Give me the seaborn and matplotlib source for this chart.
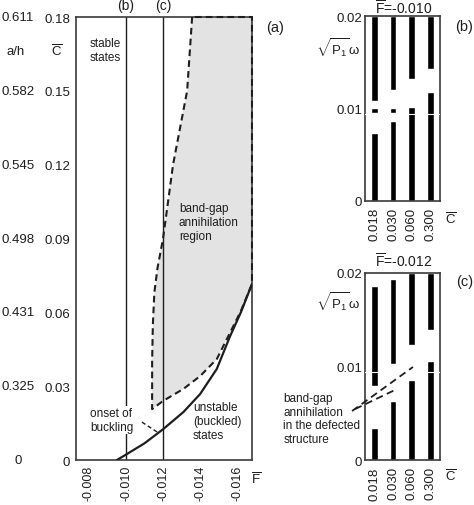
import numpy as np
import matplotlib
matplotlib.use('Agg')
import matplotlib.pyplot as plt
import matplotlib.transforms as mtransforms
import seaborn as sns

# ---- panel (a): stability / band-gap map ----
C_ticks = [0, 0.03, 0.06, 0.09, 0.12, 0.15, 0.18]
C_labels = ['0', '0.03', '0.06', '0.09', '0.12', '0.15', '0.18']
ah_labels = ['0', '0.325', '0.431', '0.498', '0.545', '0.582', '0.611']
F_ticks = [-0.008, -0.010, -0.012, -0.014, -0.016]
F_labels = ['-0.008', '-0.010', '-0.012', '-0.014', '-0.016']
F_cuts = [-0.010, -0.012]
cut_names = ['(b)', '(c)']

# onset of buckling curve
F_buckle = [-0.00951, -0.0100, -0.0110, -0.0120, -0.0131, -0.0140, -0.0149, -0.0156, -0.0162, -0.0168]
C_buckle = [0.0, 0.0022, 0.0068, 0.0125, 0.0195, 0.0268, 0.0370, 0.0500, 0.0600, 0.0715]

# band-gap annihilation region outline
F_gap_left = [-0.01357, -0.0133, -0.01254, -0.0120, -0.0117, -0.01153, -0.01145, -0.01141, -0.01141]
C_gap_left = [0.18, 0.15, 0.12, 0.09, 0.078, 0.068, 0.055, 0.040, 0.0207]
F_gap_low = [-0.0120, -0.0131, -0.0140, -0.0149, -0.0156, -0.0162, -0.0168]
C_gap_low = [0.0240, 0.0289, 0.0341, 0.0410, 0.0515, 0.0605, 0.0715]
F_gap_corner = [-0.0168, -0.01357]
C_gap_corner = [0.18, 0.18]

# ---- panels (b), (c): pass bands per C ----
C_cats = ['0.018', '0.030', '0.060', '0.300']

b_low_top = [0.00735, 0.00862, 0.0102, 0.01175]
b_up_bottom = [0.0108, 0.0120, 0.0132, 0.01427]
b_up_top = [0.02, 0.02, 0.02, 0.02]
b_mid_pos = [0, 1]
b_mid_bottom = [0.0095, 0.0095]
b_mid_top = [0.0100, 0.0100]

c_low_top = [0.0034, 0.0063, 0.0086, 0.01056]
c_up_bottom = [0.0079, 0.0103, 0.0123, 0.0139]
c_up_top = [0.0186, 0.0194, 0.02, 0.02]

# defect annihilation markers in (c)
c_dash1_x = [-1.19, 2.06]
c_dash1_y = [0.00524, 0.00995]
c_dash2_x = [-1.03, 1.10]
c_dash2_y = [0.00545, 0.00749]

sns.set_style('white')
plt.rcParams['font.family'] = ['Liberation Sans', 'DejaVu Sans']
plt.rcParams['mathtext.fontset'] = 'custom'
plt.rcParams['mathtext.rm'] = 'Liberation Sans'
plt.rcParams['mathtext.it'] = 'Liberation Sans'
plt.rcParams['mathtext.bf'] = 'Liberation Sans:bold'

ink = '#1e1e1e'
spine = '#3a3a3a'
fs = 9.5

fig = plt.figure(figsize=(4.74, 5.06), dpi=100)
ax_a = fig.add_axes([0.1603, 0.0889, 0.3713, 0.8755])
ax_b = fig.add_axes([0.7700, 0.6008, 0.1582, 0.3656])
ax_c = fig.add_axes([0.7700, 0.0889, 0.1582, 0.3696])

for ax in (ax_a, ax_b, ax_c):
    for s in ax.spines.values():
        s.set_color(spine)
        s.set_linewidth(1.2)
    ax.tick_params(length=0, colors=ink, labelsize=fs)

# ---- (a) ----
poly_F = F_gap_left + F_gap_low + F_gap_corner
poly_C = C_gap_left + C_gap_low + C_gap_corner
ax_a.fill(poly_F, poly_C, color='#e3e3e3', lw=0, zorder=1)
for fc in F_cuts:
    ax_a.axvline(fc, color=ink, lw=1.0, zorder=2)
sns.lineplot(x=F_buckle, y=C_buckle, sort=False, estimator=None, color=ink,
             lw=1.6, ax=ax_a, zorder=3)
sns.lineplot(x=poly_F + poly_F[:1], y=poly_C + poly_C[:1], sort=False, estimator=None,
             color=ink, lw=1.5, dashes=False, ax=ax_a, zorder=4, clip_on=False)
ax_a.lines[-1].set_linestyle((0, (3.2, 2.0)))
ax_a.plot([-0.01086, -0.01168], [0.0154, 0.0114], color=ink, lw=1.0,
          linestyle=(0, (3, 2)), zorder=3)

ax_a.set_xlim(-0.0073, -0.0168)
ax_a.set_ylim(0, 0.18)
ax_a.set_xticks(F_ticks)
ax_a.set_xticklabels(F_labels, rotation=90, fontsize=9)
ax_a.set_yticks(C_ticks)
ax_a.set_yticklabels(C_labels)
ax_a.tick_params(axis='y', pad=4.3)
ax_a.tick_params(axis='x', pad=3.2)

bt = mtransforms.blended_transform_factory(ax_a.transAxes, ax_a.transData)
for cv, lab in zip(C_ticks, ah_labels):
    ax_a.text(-0.33, cv, lab, transform=bt, ha='center', va='center', fontsize=fs, color=ink)
bx = mtransforms.blended_transform_factory(ax_a.transData, ax_a.transAxes)
for fc, lab in zip(F_cuts, cut_names):
    ax_a.text(fc, 1.027, lab, transform=bx, ha='center', va='center', fontsize=10, color=ink)

fig.text(16 / 474, 1 - 52 / 506, 'a/h', ha='center', va='center', fontsize=fs, color=ink)
fig.text(57 / 474, 1 - 52 / 506, r'$\overline{\mathrm{C}}$', ha='center', va='center', fontsize=fs, color=ink)
ax_a.text(1.023, -0.043, r'$\overline{\mathrm{F}}$', transform=ax_a.transAxes,
          ha='center', va='center', fontsize=fs, color=ink)

ax_a.text(-0.00805, 0.172, 'stable\nstates', ha='left', va='top', fontsize=8.5,
          color=ink, linespacing=1.25, zorder=5)
ax_a.text(-0.01286, 0.105, 'band-gap\nannihilation\nregion', ha='left', va='top',
          fontsize=8.5, color=ink, linespacing=1.25, zorder=5)
ax_a.text(-0.00805, 0.0215, 'onset of\nbuckling', ha='left', va='top', fontsize=8.5,
          color=ink, linespacing=1.25, zorder=5,
          bbox=dict(facecolor='white', edgecolor='none', pad=0.5))
ax_a.text(-0.01362, 0.0240, 'unstable\n(buckled)\nstates', ha='left', va='top',
          fontsize=8.5, color=ink, linespacing=1.25, zorder=5)


# ---- (b) and (c) ----
def band_panel(ax, low_top, up_bottom, up_top, title, title_y, lab_y, c_y):
    pos = np.arange(len(C_cats))
    sns.barplot(x=C_cats, y=low_top, color='black', saturation=1, width=0.36,
                ax=ax, zorder=2)
    ax.bar(pos, np.subtract(up_top, up_bottom), bottom=up_bottom, width=0.36,
           color='black', zorder=2)
    ax.axhline(0.0094, color='white', lw=0.8, zorder=3)
    ax.set_xlim(-0.5, 3.5)
    ax.set_ylim(0, 0.02)
    ax.set_yticks([0, 0.01, 0.02])
    ax.set_yticklabels(['0', '0.01', '0.02'])
    ax.set_xticks(pos)
    ax.set_xticklabels(C_cats, rotation=90)
    ax.tick_params(axis='y', pad=2.2)
    ax.tick_params(axis='x', pad=4.5)
    ax.set_xlabel('')
    ax.set_ylabel('')
    ax.text(0.52, title_y, r'$\overline{\mathrm{F}}$' + title, transform=ax.transAxes,
            ha='center', va='bottom', fontsize=10, color=ink)
    ax.text(-0.06, lab_y, r'$\sqrt{\mathrm{P}_1}\,\omega$', transform=ax.transAxes,
            ha='right', va='center', fontsize=fs, color=ink)
    ax.text(1.07, c_y, r'$\overline{\mathrm{C}}$', transform=ax.transAxes,
            ha='left', va='center', fontsize=fs, color=ink)


band_panel(ax_b, b_low_top, b_up_bottom, b_up_top, '=-0.010', 0.995, 0.83, -0.097)
ax_b.bar(b_mid_pos, np.subtract(b_mid_top, b_mid_bottom), bottom=b_mid_bottom,
         width=0.36, color='black', zorder=2)
band_panel(ax_c, c_low_top, c_up_bottom, c_up_top, '=-0.012', 1.02, 0.85, -0.086)

for xs, ys in ((c_dash1_x, c_dash1_y), (c_dash2_x, c_dash2_y)):
    ax_c.plot(xs, ys, color=ink, lw=1.3, linestyle=(0, (4, 2.5)), clip_on=False, zorder=4)
ax_c.text(-4.85, 0.0073, 'band-gap\nannihilation\nin the defected\nstructure',
          ha='left', va='top', fontsize=8.5, color=ink, linespacing=1.2)

fig.text(275 / 474, 1 - 28 / 506, '(a)', ha='center', va='center', fontsize=10.5, color=ink)
fig.text(464 / 474, 1 - 27 / 506, '(b)', ha='center', va='center', fontsize=10.5, color=ink)
fig.text(465 / 474, 1 - 282 / 506, '(c)', ha='center', va='center', fontsize=10.5, color=ink)

fig.savefig('out.png', dpi=100)
